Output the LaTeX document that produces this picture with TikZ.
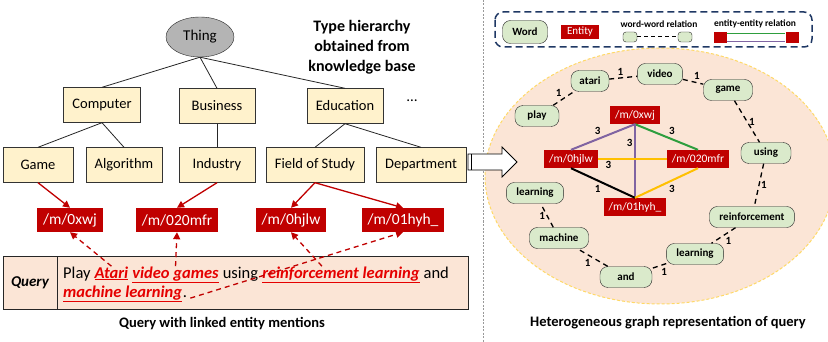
\documentclass[tikz,border=0pt]{standalone}
\usepackage{fontspec}
\setmainfont{Carlito}
\usetikzlibrary{arrows.meta,calc,positioning,shapes.geometric}
\definecolor{typeyellow}{HTML}{FFF2CC}
\definecolor{entityred}{HTML}{C00000}
\definecolor{mentionred}{HTML}{E50000}
\definecolor{querypink}{HTML}{FBE5D6}
\definecolor{wordgreen}{HTML}{DAEACB}
\definecolor{thinggray}{HTML}{B4B4B4}
\definecolor{legendblue}{HTML}{1F3864}
\definecolor{rimyellow}{HTML}{FFD966}
\definecolor{relpurple}{HTML}{8064A2}
\definecolor{relgreen}{HTML}{2E9E3E}
\definecolor{relorange}{HTML}{FFC000}

\newcommand{\mention}[1]{\underline{\textbf{\textit{#1}}}}

\begin{document}
\begin{tikzpicture}[x=1pt,y=-1pt,
    typebox/.style={draw=black!80,fill=typeyellow,minimum width=76pt,minimum height=35pt,inner xsep=9pt,font=\fontsize{14.5}{16}\selectfont},
    entbox/.style={fill=entityred,text=white,minimum height=24pt,inner xsep=6pt,font=\fontsize{15.5}{17}\selectfont},
    graphent/.style={fill=entityred,text=white,minimum height=18pt,inner xsep=5pt,font=\fontsize{11.5}{13}\selectfont},
    wordbox/.style={draw=black!85,fill=wordgreen,rounded corners=8pt,minimum width=44pt,minimum height=21pt,inner xsep=10pt,font=\bfseries\fontsize{11}{13}\selectfont},
    qword/.style={anchor=base west,inner sep=0pt,font=\fontsize{16.5}{18}\selectfont},
    qment/.style={qword,text=mentionred},
    treeline/.style={draw=black!85,line width=0.8pt},
    linkarrow/.style={draw=entityred,line width=1.3pt,-{Triangle[length=7pt,width=7pt]}},
    mentarrow/.style={linkarrow,dash pattern=on 5pt off 4pt},
    wordedge/.style={draw=black,line width=1.3pt,dash pattern=on 5pt off 4pt},
    entedge/.style={line width=2pt},
    elabel/.style={inner sep=1.5pt,text=black,font=\bfseries\fontsize{11}{13}\selectfont},
    caption/.style={font=\bfseries\fontsize{14.5}{16}\selectfont}]
    \useasboundingbox (0,0) rectangle (828,342);

    \node[ellipse,draw=black!85,fill=thinggray,minimum width=68pt,minimum height=40pt,font=\fontsize{15}{17}\selectfont] (thing) at (200,37) {Thing};
    \node[align=center,font=\bfseries\fontsize{16}{20}\selectfont] (title) at (362,47) {Type hierarchy\\obtained from\\knowledge base};
    \node[typebox] (computer) at (102,105) {Computer};
    \node[typebox] (business) at (217,106) {Business};
    \node[typebox] (education) at (345,106) {Education};
    \node[font=\fontsize{15}{17}\selectfont] (more) at (412,101) {\dots};
    \node[typebox,minimum width=70pt] (game) at (38,165) {Game};
    \node[typebox] (algorithm) at (124,165) {Algorithm};
    \node[typebox] (industry) at (217,165) {Industry};
    \node[typebox] (field) at (315,165) {Field of Study};
    \node[typebox] (department) at (421,165) {Department};
    \draw[treeline] (thing.south) -- (computer.north);
    \draw[treeline] (thing.south) -- (business.north);
    \draw[treeline] (thing.south) -- (education.north);
    \draw[treeline] (computer.south) -- (game.north);
    \draw[treeline] (computer.south) -- (algorithm.north);
    \draw[treeline] (business.south) -- (industry.north);
    \draw[treeline] (education.south) -- (field.north);
    \draw[treeline] (education.south) -- (department.north);

    \node[entbox] (lxwj) at (70,220) {/m/0xwj};
    \node[entbox] (lmfr) at (177,220) {/m/020mfr};
    \node[entbox] (lhjlw) at (291,220) {/m/0hjlw};
    \node[entbox] (lhyh) at (403,220) {/m/01hyh\_};
    \draw[linkarrow] (game.south) -- (lxwj.north);
    \draw[linkarrow] (industry.south) -- (lmfr.north);
    \draw[linkarrow] (field.south) -- (lhjlw.north);
    \draw[linkarrow] (field.south) -- (lhyh.north);

    \draw[black!85,fill=querypink] (3,256) rectangle (468,309);
    \draw[black!85] (57,256) -- (57,309);
    \node[font=\bfseries\itshape\fontsize{15}{17}\selectfont] (qlabel) at (30,283) {Query};
    \node[qword] (qplay) at (63,278) {Play};
    \node[qment,right=3.7pt of qplay.base east,anchor=base west] (qatari) {\mention{Atari}};
    \node[qment,right=3.7pt of qatari.base east,anchor=base west] (qvideo) {\mention{video games}};
    \node[qword,right=3.7pt of qvideo.base east,anchor=base west] (qusing) {using};
    \node[qment,right=3.7pt of qusing.base east,anchor=base west] (qrl) {\mention{reinforcement learning}};
    \node[qword,right=3.7pt of qrl.base east,anchor=base west] (qand) {and};
    \node[qment] (qml) at (63,297) {\mention{machine learning}};
    \node[qword,right=0.5pt of qml.base east,anchor=base west] (qdot) {.};
    \draw[mentarrow] (qatari.north) -- (lxwj.south);
    \draw[mentarrow] (qvideo.north) -- (lmfr.south);
    \draw[mentarrow] ($(qrl.north west)!0.38!(qrl.north east)$) -- (lhjlw.south);
    \draw[mentarrow] ([xshift=3pt,yshift=-2pt]qdot.east) -- (lhyh.south);
    \node[caption] (lcap) at (222,324) {Query with linked entity mentions};

    \draw[gray!80,line width=0.6pt,dash pattern=on 2pt off 1.5pt] (483,0) -- (483,342);
    \draw[rimyellow,fill=querypink,line width=1pt,dash pattern=on 3pt off 2pt] (660,176) ellipse [x radius=175pt,y radius=128pt];
    \draw[black,fill=white,line width=0.8pt] (468,154) -- (502,154) -- (502,147) -- (517,162) -- (502,177) -- (502,170) -- (468,170) -- cycle;
    \draw[black,line width=0.8pt] (471.5,154) -- (471.5,170);

    \draw[legendblue,line width=1.5pt,rounded corners=8pt,dash pattern=on 7pt off 4pt] (495,12) rectangle (812,47);
    \node[wordbox,minimum width=45pt,minimum height=23pt,inner xsep=6pt] (lgword) at (525,32) {Word};
    \node[graphent,minimum height=14pt,minimum width=38pt,inner sep=1pt,font=\fontsize{11}{13}\selectfont] (lgent) at (580,32) {Entity};
    \node[font=\bfseries\fontsize{9.5}{11}\selectfont] (lgww) at (659,24) {word-word relation};
    \node[font=\bfseries\fontsize{9.5}{11}\selectfont] (lgee) at (755,24) {entity-entity relation};
    \node[draw=black!85,fill=wordgreen,rounded corners=3pt,minimum width=14pt,minimum height=10pt,inner sep=0pt] (lgwa) at (630,37) {};
    \node[draw=black!85,fill=wordgreen,rounded corners=3pt,minimum width=14pt,minimum height=10pt,inner sep=0pt] (lgwb) at (685,37) {};
    \draw[wordedge,line width=1pt,dash pattern=on 4pt off 3pt] (lgwa) -- (lgwb);
    \node[fill=entityred,minimum width=13pt,minimum height=11pt,inner sep=0pt] (lgea) at (720,38) {};
    \node[fill=entityred,minimum width=13pt,minimum height=11pt,inner sep=0pt] (lgeb) at (792,38) {};
    \draw[relgreen,line width=0.7pt] ([yshift=-1.5pt]lgea.north east) -- ([yshift=-1.5pt]lgeb.north west);
    \draw[relpurple,line width=0.7pt] ([yshift=2.5pt]lgea.south east) -- ([yshift=2.5pt]lgeb.south west);

    \node[wordbox] (play) at (537,116) {play};
    \node[wordbox,minimum width=38pt,inner xsep=6pt] (atari) at (590,81) {atari};
    \node[wordbox] (video) at (660,74) {video};
    \node[wordbox,minimum width=49pt] (wgame) at (728,90) {game};
    \node[wordbox,minimum width=50pt] (using) at (766,153) {using};
    \node[wordbox] (reinf) at (752,217) {reinforcement};
    \node[wordbox] (learnr) at (695,254) {learning};
    \node[wordbox,minimum width=52pt] (and) at (626,277) {and};
    \node[wordbox] (machine) at (559,238) {machine};
    \node[wordbox] (learnl) at (535,193) {learning};
    \draw[wordedge] (play) -- node[elabel,above left] {1} (atari);
    \draw[wordedge] (atari) -- node[elabel,above,pos=0.4] {1} (video);
    \draw[wordedge] (video) -- node[elabel,above right,pos=0.45] {1} (wgame);
    \draw[wordedge] (wgame) -- node[elabel,right] {1} (using);
    \draw[wordedge] (using) -- node[elabel,right] {1} (reinf);
    \draw[wordedge] (reinf) -- node[elabel,below right] {1} (learnr);
    \draw[wordedge] (learnr) -- node[elabel,below right] {1} (and);
    \draw[wordedge] (and) -- node[elabel,below left] {1} (machine);
    \draw[wordedge] (machine) -- node[elabel,left] {1} (learnl);

    \node[graphent] (gxwj) at (635,115) {/m/0xwj};
    \node[graphent] (ghjlw) at (571,159) {/m/0hjlw};
    \node[graphent] (gmfr) at (698,159) {/m/020mfr};
    \node[graphent] (ghyh) at (635,207) {/m/01hyh\_};
    \draw[entedge,relpurple] (gxwj.south) -- node[elabel,above left] {3} (ghjlw.north);
    \draw[entedge,relgreen] (gxwj.south) -- node[elabel,above right] {3} (gmfr.north);
    \draw[entedge,relpurple] (gxwj.south) -- node[elabel,left,pos=0.25] {3} (ghyh.north);
    \draw[entedge,relorange] (ghjlw.east) -- node[elabel,below,pos=0.15] {3} (gmfr.west);
    \draw[entedge,black] (ghjlw.south) -- node[elabel,below left] {1} (ghyh.north);
    \draw[entedge,relorange] (ghyh.north) -- node[elabel,below right] {3} (gmfr.south);
    \node[caption] (rcap) at (668,323) {Heterogeneous graph representation of query};
\end{tikzpicture}
\end{document}
